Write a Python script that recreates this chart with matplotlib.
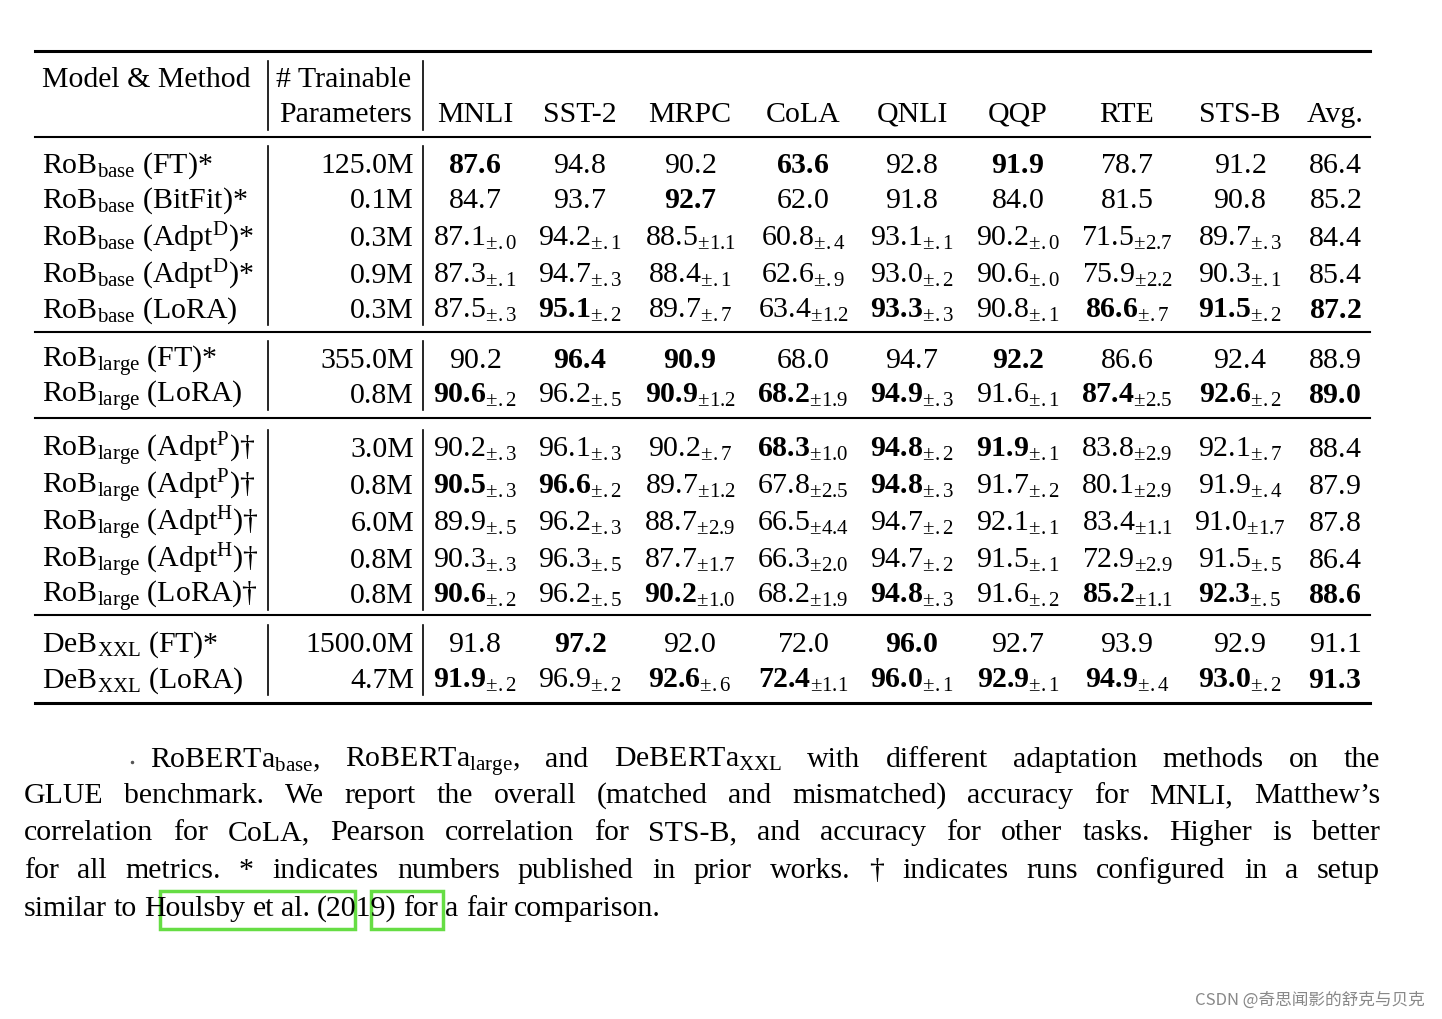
import matplotlib.pyplot as plt
from matplotlib.patches import Rectangle

plt.rcParams['font.family'] = ['Liberation Serif', 'DejaVu Serif']
plt.rcParams['mathtext.fontset'] = 'custom'
plt.rcParams['mathtext.rm'] = 'Liberation Serif'
plt.rcParams['mathtext.it'] = 'Liberation Serif:italic'
plt.rcParams['mathtext.bf'] = 'Liberation Serif:bold'

tasks = ["MNLI", "SST-2", "MRPC", "CoLA", "QNLI", "QQP", "RTE", "STS-B", "Avg."]

models = [
    r"RoB$_{\rm base}$ (FT)*", r"RoB$_{\rm base}$ (BitFit)*", r"RoB$_{\rm base}$ (Adpt$^{\rm D}$)*",
    r"RoB$_{\rm base}$ (Adpt$^{\rm D}$)*", r"RoB$_{\rm base}$ (LoRA)",
    r"RoB$_{\rm large}$ (FT)*", r"RoB$_{\rm large}$ (LoRA)",
    r"RoB$_{\rm large}$ (Adpt$^{\rm P}$)†", r"RoB$_{\rm large}$ (Adpt$^{\rm P}$)†",
    r"RoB$_{\rm large}$ (Adpt$^{\rm H}$)†", r"RoB$_{\rm large}$ (Adpt$^{\rm H}$)†",
    r"RoB$_{\rm large}$ (LoRA)†",
    r"DeB$_{\rm XXL}$ (FT)*", r"DeB$_{\rm XXL}$ (LoRA)",
]
params = ["125.0M", "0.1M", "0.3M", "0.9M", "0.3M", "355.0M", "0.8M",
          "3.0M", "0.8M", "6.0M", "0.8M", "0.8M", "1500.0M", "4.7M"]

values = [
    ["87.6", "94.8", "90.2", "63.6", "92.8", "91.9", "78.7", "91.2", "86.4"],
    ["84.7", "93.7", "92.7", "62.0", "91.8", "84.0", "81.5", "90.8", "85.2"],
    ["87.1", "94.2", "88.5", "60.8", "93.1", "90.2", "71.5", "89.7", "84.4"],
    ["87.3", "94.7", "88.4", "62.6", "93.0", "90.6", "75.9", "90.3", "85.4"],
    ["87.5", "95.1", "89.7", "63.4", "93.3", "90.8", "86.6", "91.5", "87.2"],
    ["90.2", "96.4", "90.9", "68.0", "94.7", "92.2", "86.6", "92.4", "88.9"],
    ["90.6", "96.2", "90.9", "68.2", "94.9", "91.6", "87.4", "92.6", "89.0"],
    ["90.2", "96.1", "90.2", "68.3", "94.8", "91.9", "83.8", "92.1", "88.4"],
    ["90.5", "96.6", "89.7", "67.8", "94.8", "91.7", "80.1", "91.9", "87.9"],
    ["89.9", "96.2", "88.7", "66.5", "94.7", "92.1", "83.4", "91.0", "87.8"],
    ["90.3", "96.3", "87.7", "66.3", "94.7", "91.5", "72.9", "91.5", "86.4"],
    ["90.6", "96.2", "90.2", "68.2", "94.8", "91.6", "85.2", "92.3", "88.6"],
    ["91.8", "97.2", "92.0", "72.0", "96.0", "92.7", "93.9", "92.9", "91.1"],
    ["91.9", "96.9", "92.6", "72.4", "96.0", "92.9", "94.9", "93.0", "91.3"],
]
stds = [
    None, None,
    [".0", ".1", "1.1", ".4", ".1", ".0", "2.7", ".3"],
    [".1", ".3", ".1", ".9", ".2", ".0", "2.2", ".1"],
    [".3", ".2", ".7", "1.2", ".3", ".1", ".7", ".2"],
    None,
    [".2", ".5", "1.2", "1.9", ".3", ".1", "2.5", ".2"],
    [".3", ".3", ".7", "1.0", ".2", ".1", "2.9", ".7"],
    [".3", ".2", "1.2", "2.5", ".3", ".2", "2.9", ".4"],
    [".5", ".3", "2.9", "4.4", ".2", ".1", "1.1", "1.7"],
    [".3", ".5", "1.7", "2.0", ".2", ".1", "2.9", ".5"],
    [".2", ".5", "1.0", "1.9", ".3", ".2", "1.1", ".5"],
    None,
    [".2", ".2", ".6", "1.1", ".1", ".1", ".4", ".2"],
]
bold = [
    [0, 3, 5], [2], [], [], [1, 4, 6, 7, 8],
    [1, 2, 5], [0, 2, 3, 4, 6, 7, 8],
    [3, 4, 5], [0, 1, 4], [], [], [0, 2, 4, 6, 7, 8],
    [1, 4], [0, 2, 3, 4, 5, 6, 7, 8],
]

caption = [
    r"RoBERTa$_{\mathrm{base}}$, RoBERTa$_{\mathrm{large}}$, and DeBERTa$_{\mathrm{XXL}}$ with different adaptation methods on the",
    "GLUE benchmark. We report the overall (matched and mismatched) accuracy for MNLI, Matthew’s",
    "correlation for CoLA, Pearson correlation for STS-B, and accuracy for other tasks. Higher is better",
    "for all metrics. * indicates numbers published in prior works. † indicates runs configured in a setup",
    "similar to Houlsby et al. (2019) for a fair comparison.",
]

fig = plt.figure(figsize=(14.42, 10.2), dpi=100)
ax = fig.add_axes([0, 0, 1, 1])
ax.set_xlim(0, 1442)
ax.set_ylim(1020, 0)
ax.axis('off')

fs = 21.5
col_x = [475, 580, 690, 803, 912, 1018, 1127, 1240, 1335]
row_y = [163, 198, 236, 273, 308, 358, 393, 447, 484, 521, 558, 593, 642, 678]
groups = [(0, 5), (5, 7), (7, 12), (12, 14)]
rules = [(52, 2.2), (138, 1.5), (333, 1.5), (419, 1.5), (616, 1.5), (704, 2.2)]

for y, lw in rules:
    ax.plot([35, 1370], [y, y], color='black', lw=lw)

# header
ax.text(42, 80, "Model & Method", fontsize=fs, va='center')
ax.text(276, 80, "# Trainable", fontsize=fs, va='center')
ax.text(279, 115, "Parameters", fontsize=fs, va='center')
for x, t in zip(col_x, tasks):
    ax.text(x, 115, t, fontsize=fs, va='center', ha='center')
for x in (268, 423):
    ax.plot([x, x], [62, 131], color='black', lw=1.2)

for a, b in groups:
    for x in (268, 423):
        ax.plot([x, x], [row_y[a] - 16, row_y[b - 1] + 18], color='black', lw=1.2)

for i, y in enumerate(row_y):
    ax.text(42, y + 10, models[i], fontsize=fs, va='baseline')
    ax.text(414, y + 10, params[i], fontsize=fs, va='baseline', ha='right')
    for j, x in enumerate(col_x):
        v = values[i][j]
        s = r"\mathbf{%s}" % v if j in bold[i] else r"\mathrm{%s}" % v
        if stds[i] is not None and j < 8:
            s += r"_{\pm\mathrm{%s}}" % stds[i][j]
        ax.text(x, y + 10, "$" + s + "$", fontsize=fs, va='baseline', ha='center')

# caption, justified word by word
fig.canvas.draw()
renderer = fig.canvas.get_renderer()
inv = ax.transData.inverted()
line_y = [767, 803, 840, 878, 916]
starts = [150, 24, 24, 24, 24]
for k, (line, y) in enumerate(zip(caption, line_y)):
    words = line.split(" ")
    arts, widths = [], []
    for w in words:
        t = ax.text(0, y, w, fontsize=fs, va='baseline')
        bb = t.get_window_extent(renderer)
        x0 = inv.transform((bb.x0, 0))[0]
        x1 = inv.transform((bb.x1, 0))[0]
        arts.append(t)
        widths.append(x1 - x0)
    if k < len(caption) - 1:
        gap = (1380 - starts[k] - sum(widths)) / (len(words) - 1)
    else:
        gap = 7
    x = starts[k]
    for t, wd in zip(arts, widths):
        t.set_x(x)
        x += wd + gap

ax.add_patch(Rectangle((160, 892), 195, 38, fill=False, edgecolor='#66dd44', lw=2.5))
ax.add_patch(Rectangle((371, 892), 72, 38, fill=False, edgecolor='#66dd44', lw=2.5))
ax.plot([132], [763], marker='.', color='#555555', ms=3)

ax.text(1425, 1000, "CSDN @奇思闻影的舒克与贝克", fontsize=12, color='#888888', ha='right',
        va='center', family=['Noto Sans CJK SC', 'DejaVu Sans'])

fig.savefig("out.png", dpi=100)
